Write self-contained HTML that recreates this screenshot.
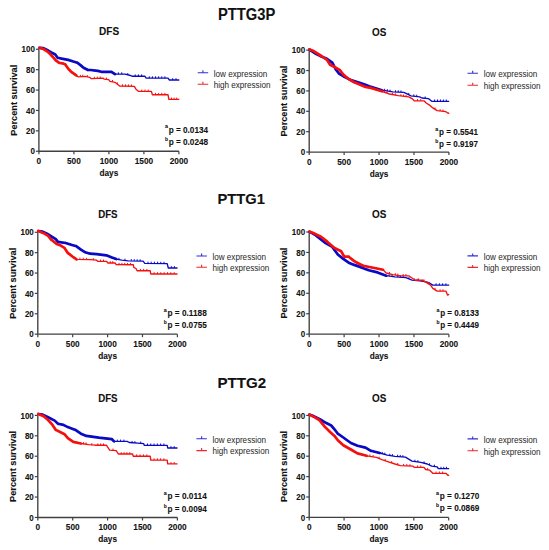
<!DOCTYPE html>
<html><head><meta charset="utf-8"><style>
html,body{margin:0;padding:0;background:#fff;width:549px;height:550px;overflow:hidden}
svg{display:block;font-family:"Liberation Sans",sans-serif}
text[font-weight=bold]{stroke:#111;stroke-width:0.1px}
</style></head><body>
<svg width="549" height="550" viewBox="0 0 549 550">
<rect width="549" height="550" fill="#fff"/>
<path d="M38.9 49.25 V151.25 H178.9" fill="none" stroke="#404040" stroke-width="1.35"/>
<path d="M35.9 151.25 H38.9" stroke="#404040" stroke-width="1.2"/>
<text x="34.9" y="154.35" font-size="9.8" font-weight="bold" text-anchor="end" fill="#111" textLength="4.45" lengthAdjust="spacingAndGlyphs" >0</text>
<path d="M35.9 130.85 H38.9" stroke="#404040" stroke-width="1.2"/>
<text x="34.9" y="133.95" font-size="9.8" font-weight="bold" text-anchor="end" fill="#111" textLength="8.9" lengthAdjust="spacingAndGlyphs" >20</text>
<path d="M35.9 110.45 H38.9" stroke="#404040" stroke-width="1.2"/>
<text x="34.9" y="113.55" font-size="9.8" font-weight="bold" text-anchor="end" fill="#111" textLength="8.9" lengthAdjust="spacingAndGlyphs" >40</text>
<path d="M35.9 90.05 H38.9" stroke="#404040" stroke-width="1.2"/>
<text x="34.9" y="93.14999999999999" font-size="9.8" font-weight="bold" text-anchor="end" fill="#111" textLength="8.9" lengthAdjust="spacingAndGlyphs" >60</text>
<path d="M35.9 69.65 H38.9" stroke="#404040" stroke-width="1.2"/>
<text x="34.9" y="72.75" font-size="9.8" font-weight="bold" text-anchor="end" fill="#111" textLength="8.9" lengthAdjust="spacingAndGlyphs" >80</text>
<path d="M35.9 49.25 H38.9" stroke="#404040" stroke-width="1.2"/>
<text x="34.9" y="52.35" font-size="9.8" font-weight="bold" text-anchor="end" fill="#111" textLength="13.35" lengthAdjust="spacingAndGlyphs" >100</text>
<path d="M38.9 151.25 V154.25" stroke="#404040" stroke-width="1.2"/>
<text x="38.9" y="163.85" font-size="9.9" font-weight="bold" text-anchor="middle" fill="#111" textLength="4.6" lengthAdjust="spacingAndGlyphs" >0</text>
<path d="M73.9 151.25 V154.25" stroke="#404040" stroke-width="1.2"/>
<text x="73.9" y="163.85" font-size="9.9" font-weight="bold" text-anchor="middle" fill="#111" textLength="13.8" lengthAdjust="spacingAndGlyphs" >500</text>
<path d="M108.9 151.25 V154.25" stroke="#404040" stroke-width="1.2"/>
<text x="108.9" y="163.85" font-size="9.9" font-weight="bold" text-anchor="middle" fill="#111" textLength="18.4" lengthAdjust="spacingAndGlyphs" >1000</text>
<path d="M143.9 151.25 V154.25" stroke="#404040" stroke-width="1.2"/>
<text x="143.9" y="163.85" font-size="9.9" font-weight="bold" text-anchor="middle" fill="#111" textLength="18.4" lengthAdjust="spacingAndGlyphs" >1500</text>
<path d="M178.9 151.25 V154.25" stroke="#404040" stroke-width="1.2"/>
<text x="178.9" y="163.85" font-size="9.9" font-weight="bold" text-anchor="middle" fill="#111" textLength="18.4" lengthAdjust="spacingAndGlyphs" >2000</text>
<text x="108.9" y="175.75" font-size="9" font-weight="bold" text-anchor="middle" fill="#111" textLength="18.8" lengthAdjust="spacingAndGlyphs" >days</text>
<text transform="translate(16.599999999999998,100.25) rotate(-90)" x="0" y="0" font-size="9.2" font-weight="bold" text-anchor="middle" fill="#111" textLength="71" lengthAdjust="spacingAndGlyphs">Percent survival</text>
<path d="M309.2 50.150000000000006 V152.05 H448.9" fill="none" stroke="#404040" stroke-width="1.35"/>
<path d="M306.2 152.05 H309.2" stroke="#404040" stroke-width="1.2"/>
<text x="305.2" y="155.15" font-size="9.8" font-weight="bold" text-anchor="end" fill="#111" textLength="4.45" lengthAdjust="spacingAndGlyphs" >0</text>
<path d="M306.2 131.67000000000002 H309.2" stroke="#404040" stroke-width="1.2"/>
<text x="305.2" y="134.77" font-size="9.8" font-weight="bold" text-anchor="end" fill="#111" textLength="8.9" lengthAdjust="spacingAndGlyphs" >20</text>
<path d="M306.2 111.29 H309.2" stroke="#404040" stroke-width="1.2"/>
<text x="305.2" y="114.39" font-size="9.8" font-weight="bold" text-anchor="end" fill="#111" textLength="8.9" lengthAdjust="spacingAndGlyphs" >40</text>
<path d="M306.2 90.91 H309.2" stroke="#404040" stroke-width="1.2"/>
<text x="305.2" y="94.00999999999999" font-size="9.8" font-weight="bold" text-anchor="end" fill="#111" textLength="8.9" lengthAdjust="spacingAndGlyphs" >60</text>
<path d="M306.2 70.53 H309.2" stroke="#404040" stroke-width="1.2"/>
<text x="305.2" y="73.63" font-size="9.8" font-weight="bold" text-anchor="end" fill="#111" textLength="8.9" lengthAdjust="spacingAndGlyphs" >80</text>
<path d="M306.2 50.150000000000006 H309.2" stroke="#404040" stroke-width="1.2"/>
<text x="305.2" y="53.25000000000001" font-size="9.8" font-weight="bold" text-anchor="end" fill="#111" textLength="13.35" lengthAdjust="spacingAndGlyphs" >100</text>
<path d="M309.2 152.05 V155.05" stroke="#404040" stroke-width="1.2"/>
<text x="309.2" y="164.65" font-size="9.9" font-weight="bold" text-anchor="middle" fill="#111" textLength="4.6" lengthAdjust="spacingAndGlyphs" >0</text>
<path d="M344.125 152.05 V155.05" stroke="#404040" stroke-width="1.2"/>
<text x="344.125" y="164.65" font-size="9.9" font-weight="bold" text-anchor="middle" fill="#111" textLength="13.8" lengthAdjust="spacingAndGlyphs" >500</text>
<path d="M379.04999999999995 152.05 V155.05" stroke="#404040" stroke-width="1.2"/>
<text x="379.04999999999995" y="164.65" font-size="9.9" font-weight="bold" text-anchor="middle" fill="#111" textLength="18.4" lengthAdjust="spacingAndGlyphs" >1000</text>
<path d="M413.97499999999997 152.05 V155.05" stroke="#404040" stroke-width="1.2"/>
<text x="413.97499999999997" y="164.65" font-size="9.9" font-weight="bold" text-anchor="middle" fill="#111" textLength="18.4" lengthAdjust="spacingAndGlyphs" >1500</text>
<path d="M448.9 152.05 V155.05" stroke="#404040" stroke-width="1.2"/>
<text x="448.9" y="164.65" font-size="9.9" font-weight="bold" text-anchor="middle" fill="#111" textLength="18.4" lengthAdjust="spacingAndGlyphs" >2000</text>
<text x="379.04999999999995" y="176.55" font-size="9" font-weight="bold" text-anchor="middle" fill="#111" textLength="18.8" lengthAdjust="spacingAndGlyphs" >days</text>
<text transform="translate(286.9,101.10000000000001) rotate(-90)" x="0" y="0" font-size="9.2" font-weight="bold" text-anchor="middle" fill="#111" textLength="71" lengthAdjust="spacingAndGlyphs">Percent survival</text>
<path d="M37.8 232.29999999999998 V334.15 H177.39999999999998" fill="none" stroke="#404040" stroke-width="1.35"/>
<path d="M34.8 334.15 H37.8" stroke="#404040" stroke-width="1.2"/>
<text x="33.8" y="337.25" font-size="9.8" font-weight="bold" text-anchor="end" fill="#111" textLength="4.45" lengthAdjust="spacingAndGlyphs" >0</text>
<path d="M34.8 313.78 H37.8" stroke="#404040" stroke-width="1.2"/>
<text x="33.8" y="316.88" font-size="9.8" font-weight="bold" text-anchor="end" fill="#111" textLength="8.9" lengthAdjust="spacingAndGlyphs" >20</text>
<path d="M34.8 293.40999999999997 H37.8" stroke="#404040" stroke-width="1.2"/>
<text x="33.8" y="296.51" font-size="9.8" font-weight="bold" text-anchor="end" fill="#111" textLength="8.9" lengthAdjust="spacingAndGlyphs" >40</text>
<path d="M34.8 273.03999999999996 H37.8" stroke="#404040" stroke-width="1.2"/>
<text x="33.8" y="276.14" font-size="9.8" font-weight="bold" text-anchor="end" fill="#111" textLength="8.9" lengthAdjust="spacingAndGlyphs" >60</text>
<path d="M34.8 252.67 H37.8" stroke="#404040" stroke-width="1.2"/>
<text x="33.8" y="255.76999999999998" font-size="9.8" font-weight="bold" text-anchor="end" fill="#111" textLength="8.9" lengthAdjust="spacingAndGlyphs" >80</text>
<path d="M34.8 232.29999999999998 H37.8" stroke="#404040" stroke-width="1.2"/>
<text x="33.8" y="235.39999999999998" font-size="9.8" font-weight="bold" text-anchor="end" fill="#111" textLength="13.35" lengthAdjust="spacingAndGlyphs" >100</text>
<path d="M37.8 334.15 V337.15" stroke="#404040" stroke-width="1.2"/>
<text x="37.8" y="346.75" font-size="9.9" font-weight="bold" text-anchor="middle" fill="#111" textLength="4.6" lengthAdjust="spacingAndGlyphs" >0</text>
<path d="M72.69999999999999 334.15 V337.15" stroke="#404040" stroke-width="1.2"/>
<text x="72.69999999999999" y="346.75" font-size="9.9" font-weight="bold" text-anchor="middle" fill="#111" textLength="13.8" lengthAdjust="spacingAndGlyphs" >500</text>
<path d="M107.6 334.15 V337.15" stroke="#404040" stroke-width="1.2"/>
<text x="107.6" y="346.75" font-size="9.9" font-weight="bold" text-anchor="middle" fill="#111" textLength="18.4" lengthAdjust="spacingAndGlyphs" >1000</text>
<path d="M142.5 334.15 V337.15" stroke="#404040" stroke-width="1.2"/>
<text x="142.5" y="346.75" font-size="9.9" font-weight="bold" text-anchor="middle" fill="#111" textLength="18.4" lengthAdjust="spacingAndGlyphs" >1500</text>
<path d="M177.39999999999998 334.15 V337.15" stroke="#404040" stroke-width="1.2"/>
<text x="177.39999999999998" y="346.75" font-size="9.9" font-weight="bold" text-anchor="middle" fill="#111" textLength="18.4" lengthAdjust="spacingAndGlyphs" >2000</text>
<text x="107.6" y="358.65" font-size="9" font-weight="bold" text-anchor="middle" fill="#111" textLength="18.8" lengthAdjust="spacingAndGlyphs" >days</text>
<text transform="translate(15.499999999999996,283.22499999999997) rotate(-90)" x="0" y="0" font-size="9.2" font-weight="bold" text-anchor="middle" fill="#111" textLength="71" lengthAdjust="spacingAndGlyphs">Percent survival</text>
<path d="M309.2 231.99999999999997 V334.15 H448.9" fill="none" stroke="#404040" stroke-width="1.35"/>
<path d="M306.2 334.15 H309.2" stroke="#404040" stroke-width="1.2"/>
<text x="305.2" y="337.25" font-size="9.8" font-weight="bold" text-anchor="end" fill="#111" textLength="4.45" lengthAdjust="spacingAndGlyphs" >0</text>
<path d="M306.2 313.71999999999997 H309.2" stroke="#404040" stroke-width="1.2"/>
<text x="305.2" y="316.82" font-size="9.8" font-weight="bold" text-anchor="end" fill="#111" textLength="8.9" lengthAdjust="spacingAndGlyphs" >20</text>
<path d="M306.2 293.28999999999996 H309.2" stroke="#404040" stroke-width="1.2"/>
<text x="305.2" y="296.39" font-size="9.8" font-weight="bold" text-anchor="end" fill="#111" textLength="8.9" lengthAdjust="spacingAndGlyphs" >40</text>
<path d="M306.2 272.85999999999996 H309.2" stroke="#404040" stroke-width="1.2"/>
<text x="305.2" y="275.96" font-size="9.8" font-weight="bold" text-anchor="end" fill="#111" textLength="8.9" lengthAdjust="spacingAndGlyphs" >60</text>
<path d="M306.2 252.42999999999998 H309.2" stroke="#404040" stroke-width="1.2"/>
<text x="305.2" y="255.52999999999997" font-size="9.8" font-weight="bold" text-anchor="end" fill="#111" textLength="8.9" lengthAdjust="spacingAndGlyphs" >80</text>
<path d="M306.2 231.99999999999997 H309.2" stroke="#404040" stroke-width="1.2"/>
<text x="305.2" y="235.09999999999997" font-size="9.8" font-weight="bold" text-anchor="end" fill="#111" textLength="13.35" lengthAdjust="spacingAndGlyphs" >100</text>
<path d="M309.2 334.15 V337.15" stroke="#404040" stroke-width="1.2"/>
<text x="309.2" y="346.75" font-size="9.9" font-weight="bold" text-anchor="middle" fill="#111" textLength="4.6" lengthAdjust="spacingAndGlyphs" >0</text>
<path d="M344.125 334.15 V337.15" stroke="#404040" stroke-width="1.2"/>
<text x="344.125" y="346.75" font-size="9.9" font-weight="bold" text-anchor="middle" fill="#111" textLength="13.8" lengthAdjust="spacingAndGlyphs" >500</text>
<path d="M379.04999999999995 334.15 V337.15" stroke="#404040" stroke-width="1.2"/>
<text x="379.04999999999995" y="346.75" font-size="9.9" font-weight="bold" text-anchor="middle" fill="#111" textLength="18.4" lengthAdjust="spacingAndGlyphs" >1000</text>
<path d="M413.97499999999997 334.15 V337.15" stroke="#404040" stroke-width="1.2"/>
<text x="413.97499999999997" y="346.75" font-size="9.9" font-weight="bold" text-anchor="middle" fill="#111" textLength="18.4" lengthAdjust="spacingAndGlyphs" >1500</text>
<path d="M448.9 334.15 V337.15" stroke="#404040" stroke-width="1.2"/>
<text x="448.9" y="346.75" font-size="9.9" font-weight="bold" text-anchor="middle" fill="#111" textLength="18.4" lengthAdjust="spacingAndGlyphs" >2000</text>
<text x="379.04999999999995" y="358.65" font-size="9" font-weight="bold" text-anchor="middle" fill="#111" textLength="18.8" lengthAdjust="spacingAndGlyphs" >days</text>
<text transform="translate(286.9,283.075) rotate(-90)" x="0" y="0" font-size="9.2" font-weight="bold" text-anchor="middle" fill="#111" textLength="71" lengthAdjust="spacingAndGlyphs">Percent survival</text>
<path d="M37.8 415.40000000000003 V517.45 H177.39999999999998" fill="none" stroke="#404040" stroke-width="1.35"/>
<path d="M34.8 517.45 H37.8" stroke="#404040" stroke-width="1.2"/>
<text x="33.8" y="520.5500000000001" font-size="9.8" font-weight="bold" text-anchor="end" fill="#111" textLength="4.45" lengthAdjust="spacingAndGlyphs" >0</text>
<path d="M34.8 497.04 H37.8" stroke="#404040" stroke-width="1.2"/>
<text x="33.8" y="500.14000000000004" font-size="9.8" font-weight="bold" text-anchor="end" fill="#111" textLength="8.9" lengthAdjust="spacingAndGlyphs" >20</text>
<path d="M34.8 476.63000000000005 H37.8" stroke="#404040" stroke-width="1.2"/>
<text x="33.8" y="479.7300000000001" font-size="9.8" font-weight="bold" text-anchor="end" fill="#111" textLength="8.9" lengthAdjust="spacingAndGlyphs" >40</text>
<path d="M34.8 456.22 H37.8" stroke="#404040" stroke-width="1.2"/>
<text x="33.8" y="459.32000000000005" font-size="9.8" font-weight="bold" text-anchor="end" fill="#111" textLength="8.9" lengthAdjust="spacingAndGlyphs" >60</text>
<path d="M34.8 435.81000000000006 H37.8" stroke="#404040" stroke-width="1.2"/>
<text x="33.8" y="438.9100000000001" font-size="9.8" font-weight="bold" text-anchor="end" fill="#111" textLength="8.9" lengthAdjust="spacingAndGlyphs" >80</text>
<path d="M34.8 415.40000000000003 H37.8" stroke="#404040" stroke-width="1.2"/>
<text x="33.8" y="418.50000000000006" font-size="9.8" font-weight="bold" text-anchor="end" fill="#111" textLength="13.35" lengthAdjust="spacingAndGlyphs" >100</text>
<path d="M37.8 517.45 V520.45" stroke="#404040" stroke-width="1.2"/>
<text x="37.8" y="530.0500000000001" font-size="9.9" font-weight="bold" text-anchor="middle" fill="#111" textLength="4.6" lengthAdjust="spacingAndGlyphs" >0</text>
<path d="M72.69999999999999 517.45 V520.45" stroke="#404040" stroke-width="1.2"/>
<text x="72.69999999999999" y="530.0500000000001" font-size="9.9" font-weight="bold" text-anchor="middle" fill="#111" textLength="13.8" lengthAdjust="spacingAndGlyphs" >500</text>
<path d="M107.6 517.45 V520.45" stroke="#404040" stroke-width="1.2"/>
<text x="107.6" y="530.0500000000001" font-size="9.9" font-weight="bold" text-anchor="middle" fill="#111" textLength="18.4" lengthAdjust="spacingAndGlyphs" >1000</text>
<path d="M142.5 517.45 V520.45" stroke="#404040" stroke-width="1.2"/>
<text x="142.5" y="530.0500000000001" font-size="9.9" font-weight="bold" text-anchor="middle" fill="#111" textLength="18.4" lengthAdjust="spacingAndGlyphs" >1500</text>
<path d="M177.39999999999998 517.45 V520.45" stroke="#404040" stroke-width="1.2"/>
<text x="177.39999999999998" y="530.0500000000001" font-size="9.9" font-weight="bold" text-anchor="middle" fill="#111" textLength="18.4" lengthAdjust="spacingAndGlyphs" >2000</text>
<text x="107.6" y="541.95" font-size="9" font-weight="bold" text-anchor="middle" fill="#111" textLength="18.8" lengthAdjust="spacingAndGlyphs" >days</text>
<text transform="translate(15.499999999999996,466.42500000000007) rotate(-90)" x="0" y="0" font-size="9.2" font-weight="bold" text-anchor="middle" fill="#111" textLength="71" lengthAdjust="spacingAndGlyphs">Percent survival</text>
<path d="M309.2 415.4 V517.4 H448.7" fill="none" stroke="#404040" stroke-width="1.35"/>
<path d="M306.2 517.4 H309.2" stroke="#404040" stroke-width="1.2"/>
<text x="305.2" y="520.5" font-size="9.8" font-weight="bold" text-anchor="end" fill="#111" textLength="4.45" lengthAdjust="spacingAndGlyphs" >0</text>
<path d="M306.2 497.0 H309.2" stroke="#404040" stroke-width="1.2"/>
<text x="305.2" y="500.1" font-size="9.8" font-weight="bold" text-anchor="end" fill="#111" textLength="8.9" lengthAdjust="spacingAndGlyphs" >20</text>
<path d="M306.2 476.59999999999997 H309.2" stroke="#404040" stroke-width="1.2"/>
<text x="305.2" y="479.7" font-size="9.8" font-weight="bold" text-anchor="end" fill="#111" textLength="8.9" lengthAdjust="spacingAndGlyphs" >40</text>
<path d="M306.2 456.2 H309.2" stroke="#404040" stroke-width="1.2"/>
<text x="305.2" y="459.3" font-size="9.8" font-weight="bold" text-anchor="end" fill="#111" textLength="8.9" lengthAdjust="spacingAndGlyphs" >60</text>
<path d="M306.2 435.79999999999995 H309.2" stroke="#404040" stroke-width="1.2"/>
<text x="305.2" y="438.9" font-size="9.8" font-weight="bold" text-anchor="end" fill="#111" textLength="8.9" lengthAdjust="spacingAndGlyphs" >80</text>
<path d="M306.2 415.4 H309.2" stroke="#404040" stroke-width="1.2"/>
<text x="305.2" y="418.5" font-size="9.8" font-weight="bold" text-anchor="end" fill="#111" textLength="13.35" lengthAdjust="spacingAndGlyphs" >100</text>
<path d="M309.2 517.4 V520.4" stroke="#404040" stroke-width="1.2"/>
<text x="309.2" y="530.0" font-size="9.9" font-weight="bold" text-anchor="middle" fill="#111" textLength="4.6" lengthAdjust="spacingAndGlyphs" >0</text>
<path d="M344.075 517.4 V520.4" stroke="#404040" stroke-width="1.2"/>
<text x="344.075" y="530.0" font-size="9.9" font-weight="bold" text-anchor="middle" fill="#111" textLength="13.8" lengthAdjust="spacingAndGlyphs" >500</text>
<path d="M378.95 517.4 V520.4" stroke="#404040" stroke-width="1.2"/>
<text x="378.95" y="530.0" font-size="9.9" font-weight="bold" text-anchor="middle" fill="#111" textLength="18.4" lengthAdjust="spacingAndGlyphs" >1000</text>
<path d="M413.825 517.4 V520.4" stroke="#404040" stroke-width="1.2"/>
<text x="413.825" y="530.0" font-size="9.9" font-weight="bold" text-anchor="middle" fill="#111" textLength="18.4" lengthAdjust="spacingAndGlyphs" >1500</text>
<path d="M448.7 517.4 V520.4" stroke="#404040" stroke-width="1.2"/>
<text x="448.7" y="530.0" font-size="9.9" font-weight="bold" text-anchor="middle" fill="#111" textLength="18.4" lengthAdjust="spacingAndGlyphs" >2000</text>
<text x="378.95" y="541.9" font-size="9" font-weight="bold" text-anchor="middle" fill="#111" textLength="18.8" lengthAdjust="spacingAndGlyphs" >days</text>
<text transform="translate(286.9,466.4) rotate(-90)" x="0" y="0" font-size="9.2" font-weight="bold" text-anchor="middle" fill="#111" textLength="71" lengthAdjust="spacingAndGlyphs">Percent survival</text>
<text x="218.0" y="19.8" font-size="15.8" font-weight="bold" text-anchor="start" fill="#111" textLength="57.2" lengthAdjust="spacingAndGlyphs" >PTTG3P</text>
<text x="217.5" y="203.6" font-size="15.5" font-weight="bold" text-anchor="start" fill="#111" textLength="47.4" lengthAdjust="spacingAndGlyphs" >PTTG1</text>
<text x="217.5" y="387.6" font-size="15.3" font-weight="bold" text-anchor="start" fill="#111" textLength="48.6" lengthAdjust="spacingAndGlyphs" >PTTG2</text>
<text x="99.1" y="34.9" font-size="11" font-weight="bold" text-anchor="start" fill="#111" textLength="20.1" lengthAdjust="spacingAndGlyphs" >DFS</text>
<text x="372.1" y="35.7" font-size="11" font-weight="bold" text-anchor="start" fill="#111" textLength="14.3" lengthAdjust="spacingAndGlyphs" >OS</text>
<text x="98.2" y="218.2" font-size="11" font-weight="bold" text-anchor="start" fill="#111" textLength="19.4" lengthAdjust="spacingAndGlyphs" >DFS</text>
<text x="372.1" y="217.8" font-size="11" font-weight="bold" text-anchor="start" fill="#111" textLength="14.3" lengthAdjust="spacingAndGlyphs" >OS</text>
<text x="98.2" y="401.6" font-size="11" font-weight="bold" text-anchor="start" fill="#111" textLength="19.4" lengthAdjust="spacingAndGlyphs" >DFS</text>
<text x="372.1" y="401.6" font-size="11" font-weight="bold" text-anchor="start" fill="#111" textLength="14.3" lengthAdjust="spacingAndGlyphs" >OS</text>
<path d="M197.7 72.8 H208.2 M202.89999999999998 72.8 V70.3" stroke="#3030d8" stroke-width="1.1" fill="none"/>
<path d="M197.7 84.2 H208.2 M202.89999999999998 84.2 V81.7" stroke="#f02828" stroke-width="1.1" fill="none"/>
<text x="213.7" y="76.6" font-size="9.5" font-weight="normal" text-anchor="start" fill="#262626" textLength="53.7" lengthAdjust="spacingAndGlyphs" >low expression</text>
<text x="213.7" y="88.0" font-size="9.5" font-weight="normal" text-anchor="start" fill="#262626" textLength="56.8" lengthAdjust="spacingAndGlyphs" >high expression</text>
<path d="M467.5 73.2 H478.0 M472.7 73.2 V70.7" stroke="#3030d8" stroke-width="1.1" fill="none"/>
<path d="M467.5 85.2 H478.0 M472.7 85.2 V82.7" stroke="#f02828" stroke-width="1.1" fill="none"/>
<text x="483.7" y="77.0" font-size="9.5" font-weight="normal" text-anchor="start" fill="#262626" textLength="53.7" lengthAdjust="spacingAndGlyphs" >low expression</text>
<text x="483.7" y="89.0" font-size="9.5" font-weight="normal" text-anchor="start" fill="#262626" textLength="56.8" lengthAdjust="spacingAndGlyphs" >high expression</text>
<path d="M196.4 256 H206.9 M201.6 256 V253.5" stroke="#3030d8" stroke-width="1.1" fill="none"/>
<path d="M196.4 267.3 H206.9 M201.6 267.3 V264.8" stroke="#f02828" stroke-width="1.1" fill="none"/>
<text x="212.4" y="259.8" font-size="9.5" font-weight="normal" text-anchor="start" fill="#262626" textLength="53.7" lengthAdjust="spacingAndGlyphs" >low expression</text>
<text x="212.4" y="271.1" font-size="9.5" font-weight="normal" text-anchor="start" fill="#262626" textLength="56.8" lengthAdjust="spacingAndGlyphs" >high expression</text>
<path d="M467.5 255.9 H478.0 M472.7 255.9 V253.4" stroke="#3030d8" stroke-width="1.1" fill="none"/>
<path d="M467.5 267.4 H478.0 M472.7 267.4 V264.9" stroke="#f02828" stroke-width="1.1" fill="none"/>
<text x="483.7" y="259.7" font-size="9.5" font-weight="normal" text-anchor="start" fill="#262626" textLength="53.7" lengthAdjust="spacingAndGlyphs" >low expression</text>
<text x="483.7" y="271.2" font-size="9.5" font-weight="normal" text-anchor="start" fill="#262626" textLength="56.8" lengthAdjust="spacingAndGlyphs" >high expression</text>
<path d="M196.4 438.8 H206.9 M201.6 438.8 V436.3" stroke="#3030d8" stroke-width="1.1" fill="none"/>
<path d="M196.4 450.6 H206.9 M201.6 450.6 V448.1" stroke="#f02828" stroke-width="1.1" fill="none"/>
<text x="212.4" y="442.6" font-size="9.5" font-weight="normal" text-anchor="start" fill="#262626" textLength="53.7" lengthAdjust="spacingAndGlyphs" >low expression</text>
<text x="212.4" y="454.40000000000003" font-size="9.5" font-weight="normal" text-anchor="start" fill="#262626" textLength="56.8" lengthAdjust="spacingAndGlyphs" >high expression</text>
<path d="M467.5 438.9 H478.0 M472.7 438.9 V436.4" stroke="#3030d8" stroke-width="1.1" fill="none"/>
<path d="M467.5 450.7 H478.0 M472.7 450.7 V448.2" stroke="#f02828" stroke-width="1.1" fill="none"/>
<text x="483.7" y="442.7" font-size="9.5" font-weight="normal" text-anchor="start" fill="#262626" textLength="53.7" lengthAdjust="spacingAndGlyphs" >low expression</text>
<text x="483.7" y="454.5" font-size="9.5" font-weight="normal" text-anchor="start" fill="#262626" textLength="56.8" lengthAdjust="spacingAndGlyphs" >high expression</text>
<text x="164.9" y="128.4" font-size="5.5" font-weight="bold" text-anchor="start" fill="#111" textLength="3" lengthAdjust="spacingAndGlyphs" >a</text>
<text x="168.7" y="132.5" font-size="9.9" font-weight="bold" text-anchor="start" fill="#111" textLength="39.4" lengthAdjust="spacingAndGlyphs" >p = 0.0134</text>
<text x="164.9" y="141.0" font-size="5.5" font-weight="bold" text-anchor="start" fill="#111" textLength="3" lengthAdjust="spacingAndGlyphs" >b</text>
<text x="168.7" y="145.1" font-size="9.9" font-weight="bold" text-anchor="start" fill="#111" textLength="39.4" lengthAdjust="spacingAndGlyphs" >p = 0.0248</text>
<text x="435.3" y="130.6" font-size="5.5" font-weight="bold" text-anchor="start" fill="#111" textLength="3" lengthAdjust="spacingAndGlyphs" >a</text>
<text x="439.1" y="134.7" font-size="9.9" font-weight="bold" text-anchor="start" fill="#111" textLength="38.8" lengthAdjust="spacingAndGlyphs" >p = 0.5541</text>
<text x="435.3" y="142.6" font-size="5.5" font-weight="bold" text-anchor="start" fill="#111" textLength="3" lengthAdjust="spacingAndGlyphs" >b</text>
<text x="439.1" y="146.7" font-size="9.9" font-weight="bold" text-anchor="start" fill="#111" textLength="38.8" lengthAdjust="spacingAndGlyphs" >p = 0.9197</text>
<text x="163.7" y="311.5" font-size="5.5" font-weight="bold" text-anchor="start" fill="#111" textLength="3" lengthAdjust="spacingAndGlyphs" >a</text>
<text x="167.5" y="315.6" font-size="9.9" font-weight="bold" text-anchor="start" fill="#111" textLength="39.3" lengthAdjust="spacingAndGlyphs" >p = 0.1188</text>
<text x="163.7" y="323.7" font-size="5.5" font-weight="bold" text-anchor="start" fill="#111" textLength="3" lengthAdjust="spacingAndGlyphs" >b</text>
<text x="167.5" y="327.8" font-size="9.9" font-weight="bold" text-anchor="start" fill="#111" textLength="39.3" lengthAdjust="spacingAndGlyphs" >p = 0.0755</text>
<text x="436.4" y="311.7" font-size="5.5" font-weight="bold" text-anchor="start" fill="#111" textLength="3" lengthAdjust="spacingAndGlyphs" >a</text>
<text x="440.2" y="315.8" font-size="9.9" font-weight="bold" text-anchor="start" fill="#111" textLength="38.8" lengthAdjust="spacingAndGlyphs" >p = 0.8133</text>
<text x="436.4" y="323.7" font-size="5.5" font-weight="bold" text-anchor="start" fill="#111" textLength="3" lengthAdjust="spacingAndGlyphs" >b</text>
<text x="440.2" y="327.8" font-size="9.9" font-weight="bold" text-anchor="start" fill="#111" textLength="38.8" lengthAdjust="spacingAndGlyphs" >p = 0.4449</text>
<text x="163.7" y="495.2" font-size="5.5" font-weight="bold" text-anchor="start" fill="#111" textLength="3" lengthAdjust="spacingAndGlyphs" >a</text>
<text x="167.5" y="499.3" font-size="9.9" font-weight="bold" text-anchor="start" fill="#111" textLength="39.3" lengthAdjust="spacingAndGlyphs" >p = 0.0114</text>
<text x="163.7" y="507.59999999999997" font-size="5.5" font-weight="bold" text-anchor="start" fill="#111" textLength="3" lengthAdjust="spacingAndGlyphs" >b</text>
<text x="167.5" y="511.7" font-size="9.9" font-weight="bold" text-anchor="start" fill="#111" textLength="39.3" lengthAdjust="spacingAndGlyphs" >p = 0.0094</text>
<text x="435.9" y="494.9" font-size="5.5" font-weight="bold" text-anchor="start" fill="#111" textLength="3" lengthAdjust="spacingAndGlyphs" >a</text>
<text x="439.8" y="499.0" font-size="9.9" font-weight="bold" text-anchor="start" fill="#111" textLength="39.5" lengthAdjust="spacingAndGlyphs" >p = 0.1270</text>
<text x="435.9" y="507.29999999999995" font-size="5.5" font-weight="bold" text-anchor="start" fill="#111" textLength="3" lengthAdjust="spacingAndGlyphs" >b</text>
<text x="439.8" y="511.4" font-size="9.9" font-weight="bold" text-anchor="start" fill="#111" textLength="39.5" lengthAdjust="spacingAndGlyphs" >p = 0.0869</text>
<path d="M39.40 47.80 L43.50 48.10 L47.10 49.90 L50.80 52.20 L55.30 54.50 L57.60 57.70 L61.70 58.60 L68.10 59.90 L72.60 61.30 L77.20 62.70 L80.80 65.40 L83.50 67.70 L88.00 70.00 L90.50 70.00 L97.80 70.90 L101.40 71.80 L111.40 71.80 L115.00 74.10 L125.10 74.10 L130.50 75.50 L132.00 76.20 L144.80 76.20 L146.20 78.10 L168.00 78.10 L169.40 80.00 L179.30 80.00" fill="none" stroke="#0a0ac4" stroke-width="1.35" stroke-linejoin="round"/>
<path d="M39.40 47.80 L43.50 48.10 M43.50 48.10 L47.10 49.90 M47.10 49.90 L50.80 52.20 M50.80 52.20 L55.30 54.50 M55.30 54.50 L57.60 57.70 M57.60 57.70 L61.70 58.60 M61.70 58.60 L68.10 59.90 M68.10 59.90 L72.60 61.30 M72.60 61.30 L77.20 62.70 M77.20 62.70 L80.80 65.40 M80.80 65.40 L83.50 67.70 M83.50 67.70 L88.00 70.00 M88.00 70.00 L90.50 70.00 M90.50 70.00 L97.80 70.90 M97.80 70.90 L101.40 71.80 M101.40 71.80 L111.40 71.80 M111.40 71.80 L115.00 74.10" fill="none" stroke="#0a0ac4" stroke-width="2.7" stroke-linecap="round"/>
<path d="M118.37 74.10 V72.30 M121.73 74.10 V72.30 M127.80 74.80 V73.00 M135.20 76.20 V74.40 M138.40 76.20 V74.40 M141.60 76.20 V74.40 M149.31 78.10 V76.30 M152.43 78.10 V76.30 M155.54 78.10 V76.30 M158.66 78.10 V76.30 M161.77 78.10 V76.30 M164.89 78.10 V76.30 M172.70 80.00 V78.20 M176.00 80.00 V78.20" fill="none" stroke="#0a0ac4" stroke-width="1"/>
<path d="M39.40 47.80 L43.50 49.00 L47.10 51.30 L49.80 53.60 L51.70 55.80 L53.90 58.10 L55.80 60.40 L58.90 62.70 L63.50 63.60 L65.30 64.50 L68.10 68.60 L71.70 72.20 L76.20 75.40 L78.10 76.80 L85.00 76.40 L89.60 77.30 L91.40 78.70 L103.20 78.20 L104.10 79.10 L108.70 79.60 L110.00 81.40 L115.00 82.30 L119.60 86.00 L134.40 86.40 L135.80 89.00 L138.60 91.40 L151.40 91.40 L152.40 94.70 L168.00 94.70 L168.90 99.40 L179.30 99.40" fill="none" stroke="#f51010" stroke-width="1.35" stroke-linejoin="round"/>
<path d="M39.40 47.80 L43.50 49.00 M43.50 49.00 L47.10 51.30 M47.10 51.30 L49.80 53.60 M49.80 53.60 L51.70 55.80 M51.70 55.80 L53.90 58.10 M53.90 58.10 L55.80 60.40 M55.80 60.40 L58.90 62.70 M58.90 62.70 L63.50 63.60 M63.50 63.60 L65.30 64.50 M65.30 64.50 L68.10 68.60 M68.10 68.60 L71.70 72.20 M71.70 72.20 L76.20 75.40" fill="none" stroke="#f51010" stroke-width="2.7" stroke-linecap="round"/>
<path d="M80.40 76.67 V74.87 M82.70 76.53 V74.73 M87.30 76.85 V75.05 M94.35 78.58 V76.78 M97.30 78.45 V76.65 M100.25 78.33 V76.53 M106.40 79.35 V77.55 M112.50 81.85 V80.05 M117.30 84.15 V82.35 M122.56 86.08 V84.28 M125.52 86.16 V84.36 M128.48 86.24 V84.44 M131.44 86.32 V84.52 M141.80 91.40 V89.60 M145.00 91.40 V89.60 M148.20 91.40 V89.60 M155.52 94.70 V92.90 M158.64 94.70 V92.90 M161.76 94.70 V92.90 M164.88 94.70 V92.90 M171.50 99.40 V97.60 M174.10 99.40 V97.60 M176.70 99.40 V97.60" fill="none" stroke="#f51010" stroke-width="1"/>
<path d="M309.40 49.50 L315.90 53.80 L321.40 56.60 L326.90 58.80 L332.30 62.60 L335.60 69.10 L338.90 73.50 L343.30 76.20 L350.90 80.10 L359.60 82.80 L365.50 84.80 L370.90 86.90 L381.90 90.20 L392.80 91.90 L403.70 92.40 L406.60 93.70 L410.90 95.80 L419.70 96.90 L421.90 98.00 L428.40 98.60 L431.70 101.30 L449.20 101.30" fill="none" stroke="#0a0ac4" stroke-width="1.35" stroke-linejoin="round"/>
<path d="M309.40 49.50 L315.90 53.80 M315.90 53.80 L321.40 56.60 M321.40 56.60 L326.90 58.80 M326.90 58.80 L332.30 62.60 M332.30 62.60 L335.60 69.10 M335.60 69.10 L338.90 73.50 M338.90 73.50 L343.30 76.20 M343.30 76.20 L350.90 80.10 M350.90 80.10 L359.60 82.80 M359.60 82.80 L365.50 84.80 M365.50 84.80 L370.90 86.90 M370.90 86.90 L381.90 90.20" fill="none" stroke="#0a0ac4" stroke-width="2.7" stroke-linecap="round"/>
<path d="M384.62 90.62 V88.83 M387.35 91.05 V89.25 M390.07 91.48 V89.68 M395.52 92.03 V90.23 M398.25 92.15 V90.35 M400.98 92.28 V90.48 M408.75 94.75 V92.95 M413.83 96.17 V94.37 M416.77 96.53 V94.73 M425.15 98.30 V96.50 M434.62 101.30 V99.50 M437.53 101.30 V99.50 M440.45 101.30 V99.50 M443.37 101.30 V99.50 M446.28 101.30 V99.50" fill="none" stroke="#0a0ac4" stroke-width="1"/>
<path d="M309.40 49.50 L313.70 51.10 L321.40 56.00 L326.90 59.80 L330.10 64.80 L334.50 67.00 L340.00 70.20 L343.30 74.60 L348.70 79.00 L354.20 82.30 L359.60 84.40 L365.50 86.90 L370.90 88.00 L381.90 91.30 L389.50 94.00 L398.30 95.70 L408.70 96.90 L412.00 98.60 L414.20 100.80 L424.00 100.80 L426.20 103.00 L429.50 105.10 L432.80 107.90 L437.20 110.60 L445.90 111.70 L448.10 113.30 L449.20 112.80" fill="none" stroke="#f51010" stroke-width="1.35" stroke-linejoin="round"/>
<path d="M309.40 49.50 L313.70 51.10 M313.70 51.10 L321.40 56.00 M321.40 56.00 L326.90 59.80 M326.90 59.80 L330.10 64.80 M330.10 64.80 L334.50 67.00 M334.50 67.00 L340.00 70.20 M340.00 70.20 L343.30 74.60 M343.30 74.60 L348.70 79.00 M348.70 79.00 L354.20 82.30 M354.20 82.30 L359.60 84.40 M359.60 84.40 L365.50 86.90 M365.50 86.90 L370.90 88.00 M370.90 88.00 L381.90 91.30" fill="none" stroke="#f51010" stroke-width="2.7" stroke-linecap="round"/>
<path d="M384.43 92.20 V90.40 M386.97 93.10 V91.30 M392.43 94.57 V92.77 M395.37 95.13 V93.33 M400.90 96.00 V94.20 M403.50 96.30 V94.50 M406.10 96.60 V94.80 M417.47 100.80 V99.00 M420.73 100.80 V99.00 M435.00 109.25 V107.45 M440.10 110.97 V109.17 M443.00 111.33 V109.53" fill="none" stroke="#f51010" stroke-width="1"/>
<path d="M38.30 231.00 L42.70 231.60 L47.00 233.70 L51.40 236.50 L55.80 239.20 L58.00 241.90 L65.60 243.00 L71.10 244.70 L76.50 246.30 L80.90 249.60 L85.30 252.30 L90.00 253.70 L96.60 254.20 L106.40 255.30 L111.90 257.50 L116.20 259.10 L121.70 260.20 L128.30 260.80 L143.10 261.20 L144.80 263.40 L167.20 263.60 L168.30 268.00 L177.50 268.00" fill="none" stroke="#0a0ac4" stroke-width="1.35" stroke-linejoin="round"/>
<path d="M38.30 231.00 L42.70 231.60 M42.70 231.60 L47.00 233.70 M47.00 233.70 L51.40 236.50 M51.40 236.50 L55.80 239.20 M55.80 239.20 L58.00 241.90 M58.00 241.90 L65.60 243.00 M65.60 243.00 L71.10 244.70 M71.10 244.70 L76.50 246.30 M76.50 246.30 L80.90 249.60 M80.90 249.60 L85.30 252.30 M85.30 252.30 L90.00 253.70 M90.00 253.70 L96.60 254.20 M96.60 254.20 L106.40 255.30 M106.40 255.30 L111.90 257.50 M111.90 257.50 L116.20 259.10" fill="none" stroke="#0a0ac4" stroke-width="2.7" stroke-linecap="round"/>
<path d="M118.95 259.65 V257.85 M125.00 260.50 V258.70 M131.26 260.88 V259.08 M134.22 260.96 V259.16 M137.18 261.04 V259.24 M140.14 261.12 V259.32 M148.00 263.43 V261.63 M151.20 263.46 V261.66 M154.40 263.49 V261.69 M157.60 263.51 V261.71 M160.80 263.54 V261.74 M164.00 263.57 V261.77 M171.37 268.00 V266.20 M174.43 268.00 V266.20" fill="none" stroke="#0a0ac4" stroke-width="1"/>
<path d="M38.30 231.00 L43.70 233.20 L48.10 235.90 L51.40 239.80 L56.90 244.10 L61.20 245.80 L64.50 248.00 L67.80 252.90 L73.30 257.20 L76.50 259.40 L90.00 259.70 L96.60 260.20 L97.70 261.30 L106.40 261.30 L108.00 263.00 L115.10 263.00 L116.20 264.60 L133.30 264.70 L133.80 267.40 L136.00 268.50 L137.10 270.70 L150.20 270.70 L150.80 274.00 L177.50 274.00" fill="none" stroke="#f51010" stroke-width="1.35" stroke-linejoin="round"/>
<path d="M38.30 231.00 L43.70 233.20 M43.70 233.20 L48.10 235.90 M48.10 235.90 L51.40 239.80 M51.40 239.80 L56.90 244.10 M56.90 244.10 L61.20 245.80 M61.20 245.80 L64.50 248.00 M64.50 248.00 L67.80 252.90 M67.80 252.90 L73.30 257.20 M73.30 257.20 L76.50 259.40" fill="none" stroke="#f51010" stroke-width="2.7" stroke-linecap="round"/>
<path d="M79.88 259.47 V257.67 M83.25 259.55 V257.75 M86.62 259.62 V257.82 M93.30 259.95 V258.15 M100.60 261.30 V259.50 M103.50 261.30 V259.50 M110.37 263.00 V261.20 M112.73 263.00 V261.20 M119.05 264.62 V262.82 M121.90 264.63 V262.83 M124.75 264.65 V262.85 M127.60 264.67 V262.87 M130.45 264.68 V262.88 M140.38 270.70 V268.90 M143.65 270.70 V268.90 M146.92 270.70 V268.90 M154.14 274.00 V272.20 M157.48 274.00 V272.20 M160.81 274.00 V272.20 M164.15 274.00 V272.20 M167.49 274.00 V272.20 M170.82 274.00 V272.20 M174.16 274.00 V272.20" fill="none" stroke="#f51010" stroke-width="1"/>
<path d="M309.40 231.60 L315.90 235.40 L324.70 242.50 L332.30 246.90 L337.80 254.50 L343.30 258.90 L348.70 262.70 L354.20 264.90 L360.00 266.90 L368.70 270.20 L377.50 272.40 L386.20 275.70 L395.00 276.80 L405.90 277.70 L412.00 280.20 L419.70 280.80 L426.20 281.90 L429.50 283.00 L432.80 285.10 L449.20 285.10" fill="none" stroke="#0a0ac4" stroke-width="1.35" stroke-linejoin="round"/>
<path d="M309.40 231.60 L315.90 235.40 M315.90 235.40 L324.70 242.50 M324.70 242.50 L332.30 246.90 M332.30 246.90 L337.80 254.50 M337.80 254.50 L343.30 258.90 M343.30 258.90 L348.70 262.70 M348.70 262.70 L354.20 264.90 M354.20 264.90 L360.00 266.90 M360.00 266.90 L368.70 270.20 M368.70 270.20 L377.50 272.40 M377.50 272.40 L386.20 275.70" fill="none" stroke="#0a0ac4" stroke-width="2.7" stroke-linecap="round"/>
<path d="M389.13 276.07 V274.27 M392.07 276.43 V274.63 M397.73 277.02 V275.22 M400.45 277.25 V275.45 M403.17 277.48 V275.68 M408.95 278.95 V277.15 M414.57 280.40 V278.60 M417.13 280.60 V278.80 M422.95 281.35 V279.55 M436.08 285.10 V283.30 M439.36 285.10 V283.30 M442.64 285.10 V283.30 M445.92 285.10 V283.30" fill="none" stroke="#0a0ac4" stroke-width="1"/>
<path d="M309.40 231.60 L313.70 233.20 L321.40 237.00 L326.90 241.40 L334.50 248.00 L341.10 251.20 L344.30 256.70 L348.70 256.70 L354.20 261.10 L360.00 264.20 L363.30 265.80 L372.00 267.50 L383.00 269.70 L386.20 273.00 L392.80 274.60 L400.40 275.80 L408.70 275.80 L412.00 278.00 L415.30 280.20 L421.90 280.20 L426.20 282.40 L430.60 285.10 L432.80 288.40 L437.20 291.10 L445.90 291.10 L447.50 295.00 L449.20 294.40" fill="none" stroke="#f51010" stroke-width="1.35" stroke-linejoin="round"/>
<path d="M309.40 231.60 L313.70 233.20 M313.70 233.20 L321.40 237.00 M321.40 237.00 L326.90 241.40 M326.90 241.40 L334.50 248.00 M334.50 248.00 L341.10 251.20 M341.10 251.20 L344.30 256.70 M344.30 256.70 L348.70 256.70 M348.70 256.70 L354.20 261.10 M354.20 261.10 L360.00 264.20 M360.00 264.20 L363.30 265.80 M363.30 265.80 L372.00 267.50 M372.00 267.50 L383.00 269.70" fill="none" stroke="#f51010" stroke-width="2.7" stroke-linecap="round"/>
<path d="M389.50 273.80 V272.00 M395.33 275.00 V273.20 M397.87 275.40 V273.60 M403.17 275.80 V274.00 M405.93 275.80 V274.00 M418.60 280.20 V278.40 M424.05 281.30 V279.50 M428.40 283.75 V281.95 M435.00 289.75 V287.95 M440.10 291.10 V289.30 M443.00 291.10 V289.30" fill="none" stroke="#f51010" stroke-width="1"/>
<path d="M38.30 414.00 L42.70 414.60 L48.10 417.30 L54.70 420.60 L58.00 423.80 L63.40 424.90 L67.80 427.10 L75.40 429.90 L80.90 433.70 L86.40 435.90 L98.70 437.60 L111.90 439.20 L114.00 441.40 L127.20 441.40 L129.30 442.50 L137.70 443.20 L143.70 443.60 L144.20 445.30 L167.20 445.30 L167.70 448.00 L177.50 448.00" fill="none" stroke="#0a0ac4" stroke-width="1.35" stroke-linejoin="round"/>
<path d="M38.30 414.00 L42.70 414.60 M42.70 414.60 L48.10 417.30 M48.10 417.30 L54.70 420.60 M54.70 420.60 L58.00 423.80 M58.00 423.80 L63.40 424.90 M63.40 424.90 L67.80 427.10 M67.80 427.10 L75.40 429.90 M75.40 429.90 L80.90 433.70 M80.90 433.70 L86.40 435.90 M86.40 435.90 L98.70 437.60 M98.70 437.60 L111.90 439.20 M111.90 439.20 L114.00 441.40" fill="none" stroke="#0a0ac4" stroke-width="2.7" stroke-linecap="round"/>
<path d="M117.30 441.40 V439.60 M120.60 441.40 V439.60 M123.90 441.40 V439.60 M132.10 442.73 V440.93 M134.90 442.97 V441.17 M140.70 443.40 V441.60 M147.49 445.30 V443.50 M150.77 445.30 V443.50 M154.06 445.30 V443.50 M157.34 445.30 V443.50 M160.63 445.30 V443.50 M163.91 445.30 V443.50 M170.97 448.00 V446.20 M174.23 448.00 V446.20" fill="none" stroke="#0a0ac4" stroke-width="1"/>
<path d="M38.30 414.00 L43.70 416.20 L48.10 420.00 L52.50 424.90 L55.80 429.90 L60.10 432.00 L64.50 434.20 L67.80 438.10 L73.30 441.90 L80.90 443.50 L88.60 444.60 L95.00 445.20 L106.40 445.20 L107.50 446.90 L109.70 450.10 L116.20 450.70 L118.40 454.00 L132.60 454.00 L133.30 456.20 L150.20 456.20 L150.80 460.10 L167.20 460.10 L167.70 463.90 L177.50 463.90" fill="none" stroke="#f51010" stroke-width="1.35" stroke-linejoin="round"/>
<path d="M38.30 414.00 L43.70 416.20 M43.70 416.20 L48.10 420.00 M48.10 420.00 L52.50 424.90 M52.50 424.90 L55.80 429.90 M55.80 429.90 L60.10 432.00 M60.10 432.00 L64.50 434.20 M64.50 434.20 L67.80 438.10 M67.80 438.10 L73.30 441.90 M73.30 441.90 L80.90 443.50" fill="none" stroke="#f51010" stroke-width="2.7" stroke-linecap="round"/>
<path d="M83.47 443.87 V442.07 M86.03 444.23 V442.43 M91.80 444.90 V443.10 M97.85 445.20 V443.40 M100.70 445.20 V443.40 M103.55 445.20 V443.40 M112.95 450.40 V448.60 M121.24 454.00 V452.20 M124.08 454.00 V452.20 M126.92 454.00 V452.20 M129.76 454.00 V452.20 M136.68 456.20 V454.40 M140.06 456.20 V454.40 M143.44 456.20 V454.40 M146.82 456.20 V454.40 M154.08 460.10 V458.30 M157.36 460.10 V458.30 M160.64 460.10 V458.30 M163.92 460.10 V458.30 M170.97 463.90 V462.10 M174.23 463.90 V462.10" fill="none" stroke="#f51010" stroke-width="1"/>
<path d="M309.40 414.60 L313.70 416.20 L320.30 419.50 L325.80 422.80 L331.20 425.50 L334.50 429.30 L337.80 433.70 L343.30 437.50 L350.90 443.00 L357.50 445.70 L365.50 447.60 L370.90 450.80 L379.70 453.00 L387.30 455.20 L395.00 456.30 L405.50 457.20 L408.70 459.10 L412.00 461.10 L420.80 462.40 L427.30 464.00 L431.70 466.20 L437.20 466.80 L438.30 468.60 L449.20 468.60" fill="none" stroke="#0a0ac4" stroke-width="1.35" stroke-linejoin="round"/>
<path d="M309.40 414.60 L313.70 416.20 M313.70 416.20 L320.30 419.50 M320.30 419.50 L325.80 422.80 M325.80 422.80 L331.20 425.50 M331.20 425.50 L334.50 429.30 M334.50 429.30 L337.80 433.70 M337.80 433.70 L343.30 437.50 M343.30 437.50 L350.90 443.00 M350.90 443.00 L357.50 445.70 M357.50 445.70 L365.50 447.60 M365.50 447.60 L370.90 450.80 M370.90 450.80 L379.70 453.00" fill="none" stroke="#0a0ac4" stroke-width="2.7" stroke-linecap="round"/>
<path d="M382.23 453.73 V451.93 M384.77 454.47 V452.67 M389.87 455.57 V453.77 M392.43 455.93 V454.13 M397.62 456.52 V454.72 M400.25 456.75 V454.95 M402.88 456.98 V455.18 M414.93 461.53 V459.73 M417.87 461.97 V460.17 M424.05 463.20 V461.40 M429.50 465.10 V463.30 M434.45 466.50 V464.70 M441.02 468.60 V466.80 M443.75 468.60 V466.80 M446.48 468.60 V466.80" fill="none" stroke="#0a0ac4" stroke-width="1"/>
<path d="M309.40 414.60 L313.70 416.70 L319.20 420.00 L324.70 426.60 L330.10 432.00 L334.50 435.90 L337.80 440.20 L343.30 445.20 L350.90 449.50 L357.50 453.40 L366.60 455.80 L376.40 457.40 L381.90 459.60 L388.40 461.80 L395.00 464.00 L400.40 465.60 L413.10 466.20 L414.20 467.30 L424.00 467.30 L425.70 469.50 L429.50 470.10 L432.80 473.30 L445.90 473.30 L448.10 475.50 L449.20 475.00" fill="none" stroke="#f51010" stroke-width="1.35" stroke-linejoin="round"/>
<path d="M309.40 414.60 L313.70 416.70 M313.70 416.70 L319.20 420.00 M319.20 420.00 L324.70 426.60 M324.70 426.60 L330.10 432.00 M330.10 432.00 L334.50 435.90 M334.50 435.90 L337.80 440.20 M337.80 440.20 L343.30 445.20 M343.30 445.20 L350.90 449.50 M350.90 449.50 L357.50 453.40 M357.50 453.40 L366.60 455.80" fill="none" stroke="#f51010" stroke-width="2.7" stroke-linecap="round"/>
<path d="M369.87 456.33 V454.53 M373.13 456.87 V455.07 M379.15 458.50 V456.70 M385.15 460.70 V458.90 M391.70 462.90 V461.10 M397.70 464.80 V463.00 M403.57 465.75 V463.95 M406.75 465.90 V464.10 M409.93 466.05 V464.25 M417.47 467.30 V465.50 M420.73 467.30 V465.50 M427.60 469.80 V468.00 M436.07 473.30 V471.50 M439.35 473.30 V471.50 M442.62 473.30 V471.50" fill="none" stroke="#f51010" stroke-width="1"/>
</svg></body></html>
